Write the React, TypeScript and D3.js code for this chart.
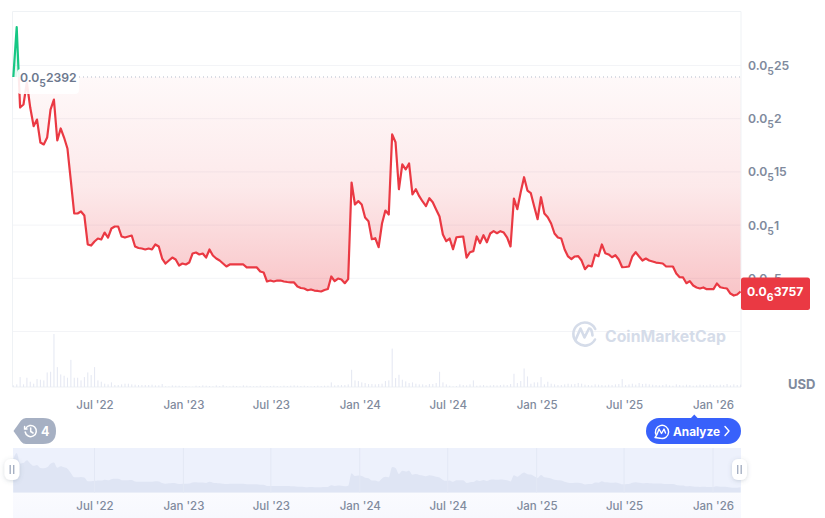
import React from 'react';
import * as d3 from 'd3';

// weekly closes, in millionths of a dollar
const priceValues = [
  23.92, 28.6, 21.05, 21.33, 23.4, 21.05, 19.3, 19.92, 17.76, 17.58, 18.23, 20.86, 21.8, 17.95, 19.08, 18.23, 17.2, 14.19, 11.09, 11.09,
  11.28, 10.9, 8.18, 8.08, 8.46, 8.74, 8.65, 9.3, 8.83, 9.68, 9.87, 9.87, 8.93, 8.83, 8.93, 9.02, 7.99, 7.85, 7.8, 7.71,
  7.8, 7.71, 8.18, 7.99, 6.86, 6.39, 6.67, 6.95, 6.77, 6.2, 6.39, 6.3, 6.48, 7.33, 7.42, 7.24, 7.33, 6.95, 7.71, 7.14,
  6.86, 6.67, 6.39, 6.11, 6.3, 6.3, 6.3, 6.3, 6.3, 6.02, 6.02, 6.02, 6.02, 5.64, 5.55, 4.7, 4.79, 4.7, 4.79, 4.79,
  4.7, 4.65, 4.61, 4.61, 4.23, 4.09, 4.04, 3.88, 3.95, 3.85, 3.81, 3.76, 3.9, 3.99, 5.17, 4.73, 4.98, 4.89, 4.54, 4.92,
  14.0, 11.94, 12.25, 11.94, 10.71, 10.37, 8.67, 8.77, 7.92, 10.15, 11.37, 11.0, 18.52, 17.79, 13.37, 15.7, 15.23, 15.79, 12.88, 13.37,
  12.72, 12.22, 11.78, 12.53, 12.15, 11.47, 10.81, 9.12, 8.49, 8.74, 7.73, 8.86, 8.9, 8.93, 6.95, 7.45, 7.55, 8.93, 8.3, 9.05,
  8.39, 9.21, 9.43, 9.24, 9.43, 9.3, 8.83, 7.99, 12.5, 11.49, 13.09, 14.5, 13.25, 13.0, 11.75, 10.55, 12.62, 11.09, 10.74, 10.15,
  9.21, 8.83, 8.74, 7.71, 7.05, 6.8, 7.05, 7.08, 6.67, 5.86, 6.2, 6.11, 7.24, 7.08, 8.18, 7.36, 7.24, 6.98, 7.17, 6.77,
  6.04, 6.06, 6.11, 7.05, 7.45, 7.05, 6.67, 6.86, 6.67, 6.58, 6.48, 6.44, 6.39, 6.11, 6.11, 6.11, 5.45, 5.1, 5.08, 4.54,
  4.73, 4.32, 4.14, 4.04, 4.14, 3.98, 3.98, 3.98, 4.51, 4.16, 4.09, 4.04, 3.57, 3.38, 3.48, 3.757,
];

const volumeValues = [
  5, 8, 30, 8, 28, 16, 10, 24, 22, 20, 44, 46, 160, 60, 38, 34, 28, 82, 28, 28,
  20, 30, 44, 36, 60, 20, 16, 10, 8, 14, 6, 6, 8, 10, 10, 8, 7, 6, 6, 6,
  6, 7, 5, 5, 9, 2, 2, 5, 4, 4, 2, 3, 1, 1, 4, 3, 5, 4, 3, 2,
  5, 3, 6, 2, 2, 4, 3, 2, 5, 4, 3, 2, 3, 4, 2, 3, 3, 4, 3, 2,
  4, 3, 4, 5, 4, 3, 4, 3, 2, 3, 4, 3, 4, 4, 14, 5, 6, 6, 6, 8,
  52, 20, 18, 14, 12, 9, 9, 8, 9, 10, 18, 20, 116, 27, 37, 22, 17, 12, 14, 10,
  8, 8, 6, 9, 9, 12, 46, 14, 8, 4, 2, 3, 8, 6, 5, 8, 20, 4, 5, 6,
  4, 5, 6, 5, 6, 7, 6, 9, 40, 12, 18, 56, 32, 10, 14, 14, 30, 8, 16, 10,
  8, 6, 6, 8, 10, 8, 9, 12, 10, 7, 6, 5, 8, 7, 6, 5, 7, 6, 8, 9,
  24, 6, 8, 10, 7, 12, 9, 10, 8, 7, 6, 5, 6, 8, 5, 4, 8, 6, 5, 7,
  6, 4, 5, 7, 6, 5, 8, 6, 5, 7, 6, 9, 5, 8, 6, 7,
];

const tickDates = ['2022-07-01', '2023-01-01', '2023-07-01', '2024-01-01', '2024-07-01', '2025-01-01', '2025-07-01', '2026-01-01'];
const yTicks = [
  { value: 25, sub: '5', rest: '25' },
  { value: 20, sub: '5', rest: '2' },
  { value: 15, sub: '5', rest: '15' },
  { value: 10, sub: '5', rest: '1' },
  { value: 5, sub: '5', rest: '5' },
];
const gridValues = [25, 20, 15, 10, 5, 0];
const startValue = 23.92;

const parseDay = d3.utcParse('%Y-%m-%d');
const firstDay = parseDay('2022-01-14') as Date;
const dates = priceValues.map((_, i) => d3.utcDay.offset(firstDay, i * 7));
const ticks = tickDates.map((d) => parseDay(d) as Date);
const tickLabel = d3.utcFormat("%b '%y");

const x = d3.scaleUtc().domain([ticks[0], ticks[7]]).range([94.5, 713]);
const y = d3.scaleLinear().domain([0, 25]).range([331.5, 65.5]);
const yVol = d3.scaleLinear().domain([0, 160]).range([387, 334]);
const yNav = d3.scaleLinear().domain([0, 28.6]).range([492.5, 453]);

const pts = priceValues.map((v, i) => ({ d: dates[i], v }));
const linePath = d3.line<any>().x((p) => x(p.d)).y((p) => y(p.v))(pts) as string;
const areaPath = d3.area<any>().x((p) => x(p.d)).y0(y(startValue)).y1((p) => y(p.v))(pts) as string;
const navPath = d3.area<any>().x((p) => x(p.d)).y0(yNav(0)).y1((p) => yNav(p.v)).curve(d3.curveMonotoneX)(pts) as string;

const GREY = '#808a9d';
const font = 'Inter, "Noto Sans", sans-serif';

function Price({ tx, ty, sub, rest, fill, weight = 600 }: any) {
  return (
    <text x={tx} y={ty} fill={fill} fontSize={12.2} fontWeight={weight}>
      <tspan>0.0</tspan>
      <tspan dy={5} fontSize={10.5}>{sub}</tspan>
      <tspan dy={-5}>{rest}</tspan>
    </text>
  );
}

function Handle({ hx }: any) {
  return (
    <g>
      <rect x={hx - 7.5} y={459} width={15} height={21} rx={6} fill="#fff" filter="url(#handleShadow)" />
      <rect x={hx - 2.5} y={465} width={1.4} height={9} fill="#a6b0c3" />
      <rect x={hx + 1} y={465} width={1.4} height={9} fill="#a6b0c3" />
    </g>
  );
}

export default function App() {
  const baseY = y(startValue);
  return (
    <svg width={825} height={518} style={{ position: 'absolute', left: 0, top: 0, fontFamily: font }}>
      <defs>
        <linearGradient id="redFill" gradientUnits="userSpaceOnUse" x1={0} y1={baseY} x2={0} y2={y(3.3)}>
          <stop offset="0" stopColor="#ea3943" stopOpacity={0.03} />
          <stop offset="0.5" stopColor="#ea3943" stopOpacity={0.11} />
          <stop offset="1" stopColor="#ea3943" stopOpacity={0.3} />
        </linearGradient>
        <linearGradient id="navShade" x1={0} y1={0} x2={0} y2={1}>
          <stop offset="0" stopColor="#f8f9fe" stopOpacity={0.7} />
          <stop offset="1" stopColor="#f7f8fe" stopOpacity={1} />
        </linearGradient>
        <clipPath id="belowStart"><rect x={0} y={baseY} width={825} height={400} /></clipPath>
        <clipPath id="aboveStart"><rect x={0} y={0} width={825} height={baseY} /></clipPath>
        <filter id="handleShadow" x="-50%" y="-50%" width="200%" height="200%">
          <feDropShadow dx={0} dy={1} stdDeviation={2} floodColor="#58667e" floodOpacity={0.25} />
        </filter>
      </defs>

      {/* frame and grid */}
      <path d="M12.5 387V11.5H741V387H12.5" fill="none" stroke="#eff2f5" strokeWidth={1} />
      {gridValues.map((v) => (
        <line key={v} x1={13} x2={741} y1={y(v)} y2={y(v)} stroke="#f3f4f7" strokeWidth={1} />
      ))}

      {/* volume */}
      {volumeValues.map((v, i) => (
        <rect key={i} x={x(dates[i]) - 0.5} y={yVol(v)} width={1.1} height={387 - yVol(v)} fill="#e6e9f3" />
      ))}

      {/* watermark */}
      <g stroke="#d5dce9" fill="none" strokeWidth={2.6} strokeLinecap="round" strokeLinejoin="round">
        <path d="M595 339.5A11.5 11.5 0 1 1 595.2 329" />
        <path d="M575.5 340L580.5 328.5L584.5 337.5L589 328.5C591 328 592 331 592.5 335.5" />
      </g>
      <text x={605} y={341.5} fill="#d5dce9" fontSize={15.8} fontWeight={700}>CoinMarketCap</text>

      {/* price */}
      <path d={areaPath} fill="url(#redFill)" clipPath="url(#belowStart)" />
      <path d={areaPath} fill="#16c784" fillOpacity={0.12} clipPath="url(#aboveStart)" />
      <path d={linePath} fill="none" stroke="#ea3943" strokeWidth={2.2} strokeLinejoin="round" clipPath="url(#belowStart)" />
      <path d={linePath} fill="none" stroke="#16c784" strokeWidth={2.2} strokeLinejoin="round" clipPath="url(#aboveStart)" />
      <line x1={79} x2={741} y1={baseY} y2={baseY} stroke="#b4bccb" strokeWidth={1} strokeDasharray="1 3" />

      <rect x={17} y={69} width={62} height={25} rx={4} fill="#fff" fillOpacity={0.9} />
      <Price tx={20} ty={82} sub="5" rest="2392" fill="#6c788e" />

      {/* y axis */}
      {yTicks.map((t) => (
        <Price key={t.value} tx={748} ty={y(t.value) + 4.5} sub={t.sub} rest={t.rest} fill={GREY} />
      ))}
      <rect x={741} y={277.5} width={69} height={32.5} rx={2.5} fill="#ea3943" />
      <Price tx={747} ty={296} sub="6" rest="3757" fill="#fff" weight={700} />
      <text x={788} y={389} fill={GREY} fontSize={13} fontWeight={700}>USD</text>

      {/* x axis */}
      {ticks.map((t, i) => (
        <text key={i} x={x(t) + 0.5} y={409} fill={GREY} fontSize={11.5} fontWeight={500} textAnchor="middle">{tickLabel(t)}</text>
      ))}

      {/* history tag */}
      <path d="M13.5 431L21 420.5Q23 418 26 418H43Q56 418 56 431Q56 444 43 444H26Q23 444 21 441.5Z" fill="#a6b0c3" />
      <g fill="none" stroke="#fff" strokeWidth={1.5} strokeLinecap="round">
        <path d="M25.7 428.5A5.6 5.6 0 1 1 25.2 432" />
        <path d="M30.7 428V431.5L33 433" />
        <path d="M24.6 426.5V429H27" />
      </g>
      <text x={41} y={435.5} fill="#fff" fontSize={12.5} fontWeight={700}>4</text>

      {/* analyze button */}
      <path d="M691 418L694.3 414.5L697.6 418Z" fill="#3861fb" />
      <rect x={646} y={418} width={95} height={26} rx={13} fill="#3861fb" />
      <g fill="none" stroke="#fff" strokeWidth={1.4} strokeLinecap="round" strokeLinejoin="round">
        <path d="M655 437.5L656.5 435.5A6.6 6.6 0 1 1 660 438.2Z" />
        <path d="M657 434.5L659 429L661.5 433.5L664 429L665.5 433" />
      </g>
      <text x={673} y={435.5} fill="#fff" fontSize={11.8} fontWeight={700}>Analyze</text>
      <path d="M725 426.5L729 431L725 435.5" fill="none" stroke="#fff" strokeWidth={1.4} strokeLinecap="round" strokeLinejoin="round" />

      {/* navigator */}
      <rect x={13} y={492.5} width={728} height={25.5} fill="url(#navShade)" />
      <rect x={13} y={448} width={728} height={44.5} fill="#edf1fc" />
      <path d={navPath} fill="#dfe5f4" />
      {ticks.map((t, i) => (
        <line key={i} x1={x(t)} x2={x(t)} y1={448} y2={492.5} stroke="#e3e8f5" strokeWidth={1} />
      ))}
      <Handle hx={12} />
      <Handle hx={739.5} />
      {ticks.map((t, i) => (
        <text key={i} x={x(t) + 0.5} y={510} fill={GREY} fontSize={11.5} fontWeight={500} textAnchor="middle">{tickLabel(t)}</text>
      ))}
    </svg>
  );
}
